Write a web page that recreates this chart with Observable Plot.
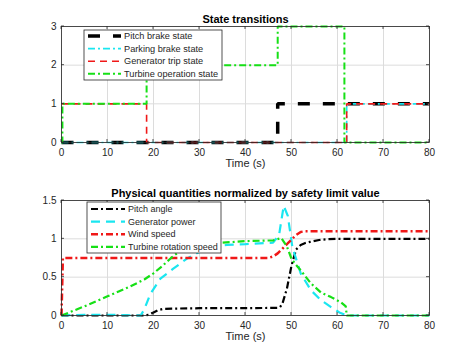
<!DOCTYPE html>
<html><head><meta charset="utf-8">
<script src="https://cdn.jsdelivr.net/npm/d3@7"></script>
<script src="https://cdn.jsdelivr.net/npm/@observablehq/plot@0.6"></script>
<style>body{margin:0;background:#fff;} #c svg{display:block;}</style>
</head><body><div id="c"></div>
<script>
// ---- Top chart data (step series: transition times & values)
const pitchBrakeT = [0, 47, 80];
const pitchBrakeV = [0, 1, 1];
const parkingBrakeT = [0, 62, 80];
const parkingBrakeV = [0, 1, 1];
const genTripT = [0, 18.5, 62, 80];
const genTripV = [1, 0, 1, 1];
const turbineOpT = [0, 0.2, 18.5, 47, 61.5, 80];
const turbineOpV = [0, 1, 2, 3, 0, 0];

// ---- Bottom chart data
const pitchAngleT = [0, 18, 19, 20, 21, 22, 24, 30, 40, 47, 47.5, 48, 49, 50, 51, 52, 53, 54, 56, 58, 60, 80];
const pitchAngleV = [0, 0, 0.01, 0.04, 0.07, 0.085, 0.09, 0.095, 0.095, 0.1, 0.11, 0.15, 0.35, 0.65, 0.86, 0.92, 0.945, 0.96, 0.985, 0.995, 1, 1];
const genPowerT = [0, 5, 10, 17.2, 18, 19.3, 21.5, 24.3, 27.2, 30, 33, 36, 40, 43, 46, 47.3, 48.3, 49.2, 50.2, 52, 54.2, 56.4, 58.6, 60.4, 62, 80];
const genPowerV = [0, 0.01, 0.01, 0, 0.08, 0.28, 0.48, 0.61, 0.74, 0.83, 0.9, 0.92, 0.93, 0.94, 0.95, 1.05, 1.43, 1.3, 0.89, 0.55, 0.33, 0.2, 0.11, 0.04, 0, 0];
const windT = [0, 0.3, 45, 46, 47, 48, 49, 50, 51, 52, 53, 80];
const windV = [0, 0.75, 0.75, 0.77, 0.81, 0.87, 0.93, 0.99, 1.05, 1.09, 1.1, 1.1];
const rotorT = [0, 5, 10, 15, 18, 20, 22, 24, 26, 28, 30, 35, 40, 46, 47.8, 49, 50, 51, 52, 54.2, 56.4, 58.6, 60.8, 61.8, 62, 80];
const rotorV = [0, 0.12, 0.25, 0.38, 0.47, 0.55, 0.65, 0.76, 0.85, 0.9, 0.93, 0.95, 0.97, 0.98, 1.01, 0.9, 0.74, 0.66, 0.59, 0.42, 0.3, 0.24, 0.17, 0.12, 0, 0];

const xTicks = [0, 10, 20, 30, 40, 50, 60, 70, 80];
const yTicksTop = [0, 1, 2, 3];
const yTicksBottom = [0, 0.5, 1, 1.5];
const titleTop = "State transitions";
const titleBottom = "Physical quantities normalized by safety limit value";
const xLabel = "Time (s)";

const zip = (T, V) => T.map((t, i) => ({t, v: V[i]}));

const C = {black: "#000000", cyan: "#1ae6f0", red: "#f01818", green: "#16e016"};

const topSeries = [
  {name: "Pitch brake state", data: zip(pitchBrakeT, pitchBrakeV), stroke: C.black, w: 3.5, dash: "12,13"},
  {name: "Parking brake state", data: zip(parkingBrakeT, parkingBrakeV), stroke: C.cyan, w: 1.6, dash: "7,3,2,3"},
  {name: "Generator trip state", data: zip(genTripT, genTripV), stroke: C.red, w: 1.6, dash: "7,5"},
  {name: "Turbine operation state", data: zip(turbineOpT, turbineOpV), stroke: C.green, w: 2, dash: "7,3,2,3"}
];
const botSeries = [
  {name: "Pitch angle", data: zip(pitchAngleT, pitchAngleV), stroke: C.black, w: 2.2, dash: "7,3,2,3"},
  {name: "Generator power", data: zip(genPowerT, genPowerV), stroke: C.cyan, w: 2.2, dash: "9,6"},
  {name: "Wind speed", data: zip(windT, windV), stroke: C.red, w: 2.5, dash: "7,3,2,3"},
  {name: "Turbine rotation speed", data: zip(rotorT, rotorV), stroke: C.green, w: 2.2, dash: "7,3,2,3"}
];

function chart({series, curve, yDomain, yTicks, title, height, mt, mb, legend}) {
  const svg = Plot.plot({
    width: 474, height,
    marginLeft: 61, marginRight: 45, marginTop: mt, marginBottom: mb,
    style: {fontFamily: "'Liberation Sans', Arial, sans-serif", fontSize: "10px", color: "#262626", background: "#fff"},
    x: {domain: [0, 80], ticks: xTicks, label: null},
    y: {domain: yDomain, ticks: yTicks, label: null, tickFormat: d => String(d)},
    marks: [
      Plot.gridX(xTicks, {stroke: "#dcdcdc", strokeOpacity: 1}),
      Plot.gridY(yTicks, {stroke: "#dcdcdc", strokeOpacity: 1}),
      Plot.axisX({ticks: xTicks, tickSize: 0, tickPadding: 6, fontSize: 10, label: null}),
      Plot.axisY({ticks: yTicks, tickSize: 0, tickPadding: 5, fontSize: 10, label: null, tickFormat: d => String(d)}),
      ...series.map(s => Plot.line(s.data, {x: "t", y: "v", curve, stroke: s.stroke, strokeWidth: s.w, strokeDasharray: s.dash, strokeLinecap: "butt", strokeLinejoin: "miter"})),
      Plot.frame({stroke: "#262626", strokeWidth: 0.8}),
      Plot.text([title], {frameAnchor: "top", dy: -11, fontWeight: "bold", fontSize: 11, fill: "#000"}),
      Plot.text([xLabel], {frameAnchor: "bottom", dy: 24, fontSize: 11, fill: "#262626"})
    ]
  });
  const s = d3.select(svg);
  // small inward ticks on all four sides (MATLAB box style), using Plot's scales
  const sx = svg.scale("x"), sy = svg.scale("y");
  const [x0, x1] = sx.range, [y0, y1] = sy.range; // y0 bottom, y1 top
  const tg = s.append("g").attr("stroke", "#262626").attr("stroke-width", 0.8);
  xTicks.forEach(t => {
    const px = sx.apply(t);
    tg.append("line").attr("x1", px).attr("x2", px).attr("y1", y0).attr("y2", y0 - 3);
    tg.append("line").attr("x1", px).attr("x2", px).attr("y1", y1).attr("y2", y1 + 3);
  });
  yTicks.forEach(t => {
    const py = sy.apply(t);
    tg.append("line").attr("x1", x0).attr("x2", x0 + 3).attr("y1", py).attr("y2", py);
    tg.append("line").attr("x1", x1).attr("x2", x1 - 3).attr("y1", py).attr("y2", py);
  });
  // legend box
  const g = s.append("g").attr("font-family", "'Liberation Sans', Arial, sans-serif").attr("font-size", legend.fs).attr("text-anchor", "start");
  g.append("rect").attr("x", legend.x).attr("y", legend.y).attr("width", legend.w).attr("height", legend.h)
    .attr("fill", "#fff").attr("stroke", "#262626").attr("stroke-width", 0.8);
  series.forEach((se, i) => {
    const yy = legend.y + legend.r0 + i * legend.dr;
    g.append("line").attr("x1", legend.x + 4).attr("x2", legend.x + legend.lw).attr("y1", yy).attr("y2", yy)
      .attr("stroke", se.stroke).attr("stroke-width", se.w).attr("stroke-dasharray", se.dash);
    g.append("text").attr("x", legend.x + legend.lw + 3).attr("y", yy).attr("dy", "0.35em")
      .attr("text-anchor", "start").attr("fill", "#262626").text(se.name);
  });
  return svg;
}

const c = document.getElementById("c");
c.appendChild(chart({series: topSeries, curve: "step-after", yDomain: [0, 3], yTicks: yTicksTop, title: titleTop,
  height: 177, mt: 26, mb: 35, legend: {x: 84, y: 30, w: 138, h: 50, r0: 6, dr: 12.6, lw: 37, fs: 9.2}}));
c.appendChild(chart({series: botSeries, curve: "linear", yDomain: [0, 1.5], yTicks: yTicksBottom, title: titleBottom,
  height: 178, mt: 23, mb: 40, legend: {x: 87, y: 25, w: 134, h: 51, r0: 7, dr: 12.6, lw: 38, fs: 9}}));
</script></body></html>
